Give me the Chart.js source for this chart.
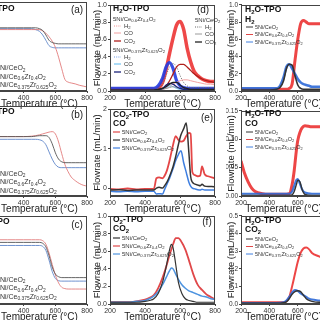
<!DOCTYPE html>
<html><head><meta charset="utf-8">
<script src="https://cdn.jsdelivr.net/npm/chart.js@4.4.0/dist/chart.umd.min.js"></script>
<style>
html,body{margin:0;padding:0;background:#fff;width:320px;height:320px;overflow:hidden;position:relative}
canvas{position:absolute}
</style></head><body>
<script>
// ---------- DATA ----------
const xTicks = [200, 400, 600, 800];
// column 1 (normalised, axis hidden)
const colT = [200,250,300,350,400,450,475,500,520,540,560,580,600,620,640,660,680,700,725,750,775,800];
const aCeO2  = [.71,.71,.71,.71,.71,.71,.71,.70,.68,.63,.57,.545,.535,.53,.53,.53,.53,.53,.53,.53,.53,.53];
const aZr64  = [.69,.69,.69,.69,.69,.69,.69,.69,.675,.65,.61,.56,.49,.38,.25,.13,.10,.09,.08,.065,.055,.045];
const aZr375 = [.70,.70,.70,.70,.70,.70,.69,.67,.63,.57,.51,.49,.485,.485,.485,.485,.485,.485,.485,.485,.485,.485];
const bCeO2  = [.66,.66,.66,.66,.66,.66,.665,.67,.67,.67,.65,.58,.48,.41,.38,.37,.37,.37,.37,.37,.37,.37];
const bZr64  = [.66,.66,.66,.66,.66,.665,.67,.68,.69,.70,.71,.715,.69,.60,.47,.35,.27,.21,.17,.14,.12,.11];
const bZr375 = [.63,.63,.63,.63,.63,.63,.63,.625,.61,.57,.49,.41,.35,.32,.315,.315,.315,.315,.315,.315,.315,.315];
const cCeO2  = [.70,.70,.70,.70,.70,.70,.70,.70,.69,.65,.55,.42,.34,.31,.30,.30,.30,.30,.30,.30,.30,.30];
const cZr64  = [.73,.73,.73,.73,.73,.73,.73,.73,.72,.68,.58,.45,.33,.24,.19,.175,.17,.17,.17,.17,.17,.17];
const cZr375 = [.665,.665,.665,.665,.665,.665,.665,.665,.655,.61,.50,.37,.29,.265,.26,.26,.26,.26,.26,.26,.26,.26];
// (d) H2O-TPO
const dT = [200,250,300,350,400,450,475,500,520,540,560,580,600,620,640,660,680,700,725,750,775,800];
const dH2Zr64  = [.02,.02,.02,.02,.02,.02,.03,.10,.25,.44,.62,.77,.81,.72,.50,.34,.23,.18,.14,.12,.11,.11];
const dCOZr64  = [.01,.01,.01,.01,.01,.01,.01,.02,.03,.05,.08,.10,.12,.13,.13,.12,.11,.10,.09,.08,.08,.07];
const dCO2Zr64 = [.01,.01,.01,.01,.01,.01,.02,.03,.06,.12,.20,.28,.31,.31,.28,.24,.20,.17,.14,.12,.11,.10];
const dH2Zr375 = [.03,.03,.03,.03,.03,.03,.06,.15,.28,.33,.26,.12,.06,.04,.03,.03,.03,.03,.03,.03,.03,.03];
const dCOZr375 = [.01,.01,.01,.01,.01,.01,.01,.02,.04,.06,.05,.03,.02,.02,.01,.01,.01,.01,.01,.01,.01,.01];
const dCO2Zr375= [.01,.01,.01,.01,.01,.01,.02,.03,.07,.09,.08,.05,.03,.02,.02,.02,.02,.02,.02,.02,.02,.02];
const dH2CeO2  = [.02,.02,.02,.02,.02,.02,.03,.08,.18,.28,.32,.28,.18,.10,.06,.04,.04,.04,.04,.04,.04,.04];
const dCOCeO2  = [.01,.01,.01,.01,.01,.01,.01,.02,.03,.04,.05,.04,.03,.02,.02,.01,.01,.01,.01,.01,.01,.01];
const dCO2CeO2 = [.01,.01,.01,.01,.01,.01,.02,.03,.05,.08,.10,.10,.07,.04,.03,.02,.02,.02,.02,.02,.02,.02];
// (e) CO2-TPO, CO
const eT = [200,250,300,350,400,450,465,480,500,510,525,540,560,575,590,605,620,635,650,660,670,685,700,715,725,740,760,780,800];
const eCeO2  = [-.05,-.04,-.06,-.05,-.05,-.05,.00,.02,.00,.05,.15,.30,.55,.80,1.10,1.35,1.50,1.65,.90,.30,.15,.10,.08,.06,.10,.05,.04,.04,.03];
const eZr64  = [-.02,-.03,-.01,-.03,-.02,-.02,.25,.27,.25,.30,.45,.70,1.10,1.32,1.22,1.18,1.20,1.32,1.40,1.38,.40,.33,.30,.32,.55,.35,.30,.27,.25];
const eZr375 = [-.08,-.09,-.08,-.09,-.08,-.08,-.15,-.14,-.15,-.05,.10,.25,.50,.70,.85,.95,.65,.40,.15,.05,.00,-.02,-.04,-.05,-.03,-.05,-.05,-.05,-.05];
// (f) O2-TPO, CO2
const fT = [200,250,300,350,400,425,450,475,500,520,540,550,560,575,590,610,630,650,675,700,725,750,775,800];
const fCeO2  = [.02,.02,.02,.02,.03,.04,.06,.12,.25,.42,.62,.68,.64,.45,.25,.12,.06,.04,.03,.02,.02,.02,.02,.02];
const fZr64  = [.02,.02,.02,.03,.05,.07,.10,.18,.30,.42,.56,.62,.68,.75,.75,.70,.62,.50,.34,.22,.16,.11,.08,.05];
const fZr375 = [.02,.02,.02,.03,.04,.06,.09,.14,.22,.30,.38,.41,.40,.34,.28,.22,.18,.15,.13,.11,.09,.08,.06,.05];
// column 3, H2O-TPO: H2
const gT = [200,250,300,350,400,450,475,500,520,540,560,580,600,620,640,660,680,700,725,750,800];
const gCeO2  = [.01,.01,.01,.01,.01,.02,.04,.12,.26,.31,.30,.18,.07,.03,.02,.02,.02,.02,.02,.02,.02];
const gZr64  = [.02,.02,.02,.02,.02,.02,.02,.02,.02,.03,.08,.35,.60,.78,.82,.80,.78,.78,.78,.78,.78];
const gZr375 = [.03,.03,.03,.03,.03,.03,.06,.16,.28,.31,.26,.20,.14,.10,.08,.07,.06,.05,.05,.05,.05];
// column 3, H2O-TPO: CO
const hT = [200,225,250,275,300,350,400,450,500,540,560,575,590,600,615,630,650,700,750,800];
const hCeO2  = [.001,.001,.001,.001,.001,.001,.001,.001,.001,.001,.002,.008,.020,.028,.025,.012,.003,.001,.001,.001];
const hZr64  = [.062,.040,.025,.014,.008,.004,.003,.003,.003,.004,.020,.045,.080,.098,.112,.120,.124,.122,.122,.122];
const hZr375 = [.004,.004,.004,.004,.004,.004,.004,.004,.004,.004,.008,.018,.028,.030,.022,.012,.006,.004,.004,.004];
// column 3, H2O-TPO: CO2
const iT = [200,300,400,450,500,520,540,560,580,600,620,640,660,680,700,750,800];
const iCeO2  = [.005,.005,.005,.005,.008,.012,.030,.055,.070,.075,.070,.050,.030,.020,.015,.010,.010];
const iZr64  = [.010,.010,.010,.010,.010,.015,.040,.100,.170,.240,.290,.315,.320,.310,.290,.270,.250];
const iZr375 = [.005,.005,.005,.005,.010,.020,.040,.065,.080,.075,.060,.050,.040,.030,.025,.020,.015];

const lblCeO2 = '5Ni/CeO_{2}';
const lblZr64 = '5Ni/Ce_{0.6}Zr_{0.4}O_{2}';
const lblZr375 = '5Ni/Ce_{0.375}Zr_{0.625}O_{2}';

// ---------- DRAWING HELPERS ----------
const FONT = '"Liberation Sans", Arial, sans-serif';
function richText(ctx, str, x, y, size, bold, color, align) {
  const segs = []; let i = 0;
  while (i < str.length) {
    if (str[i] === '_' && str[i+1] === '{') { const j = str.indexOf('}', i); segs.push({t: str.slice(i+2, j), sub: true}); i = j + 1; }
    else { let j = i; while (j < str.length && !(str[j] === '_' && str[j+1] === '{')) j++; segs.push({t: str.slice(i, j), sub: false}); i = j; }
  }
  const w = bold ? 'bold ' : '';
  let total = 0;
  segs.forEach(s => { ctx.font = w + (s.sub ? size*0.7 : size) + 'px ' + FONT; s.w = ctx.measureText(s.t).width; total += s.w; });
  let cx = align === 'right' ? x - total : align === 'center' ? x - total/2 : x;
  ctx.fillStyle = color; ctx.textBaseline = 'middle'; ctx.textAlign = 'left';
  segs.forEach(s => { ctx.font = w + (s.sub ? size*0.7 : size) + 'px ' + FONT; ctx.fillText(s.t, cx, s.sub ? y + size*0.3 : y); cx += s.w; });
}

function panel(c) {
  const yW = c.showY ? c.yW : 0;
  const left = c.l - yW, top = c.t - c.padTop;
  const W = Math.ceil(yW + (c.r - c.l) + c.padRight), H = Math.ceil(c.padTop + (c.b - c.t) + c.xH);
  const cv = document.createElement('canvas');
  cv.width = W; cv.height = H;
  cv.style.left = left + 'px'; cv.style.top = top + 'px';
  cv.style.width = W + 'px'; cv.style.height = H + 'px';
  document.body.appendChild(cv);
  const ds = c.series.map(s => ({
    data: s.x.map((t, k) => ({x: t, y: s.y[k]})),
    borderColor: s.color, borderWidth: s.width, borderDash: s.dash || [],
    pointRadius: 0, cubicInterpolationMode: 'monotone', fill: false
  }));
  const deco = {
    id: 'deco',
    afterDatasetsDraw(ch) {
      const ctx = ch.ctx, a = ch.chartArea;
      ctx.save();
      ctx.strokeStyle = '#444'; ctx.lineWidth = 1;
      ctx.strokeRect(Math.round(a.left) + 0.5, Math.round(a.top) + 0.5, Math.round(a.right - a.left) - 1, Math.round(a.bottom - a.top) - 1);
      (c.lines || []).forEach(L => {
        ctx.beginPath(); ctx.strokeStyle = L.color; ctx.lineWidth = L.width; ctx.setLineDash(L.dash || []);
        ctx.moveTo(L.x1 - left, L.y - top); ctx.lineTo(L.x2 - left, L.y - top); ctx.stroke();
      });
      ctx.setLineDash([]);
      (c.texts || []).forEach(T => richText(ctx, T.t, T.x - left, T.y - top, T.size, T.bold, T.color || '#222', T.align || 'left'));
      ctx.restore();
    }
  };
  new Chart(cv, {
    type: 'line',
    data: {datasets: ds},
    options: {
      responsive: false, animation: false, devicePixelRatio: 1,
      layout: {padding: {left: 0, top: c.padTop, right: c.padRight, bottom: 0}},
      plugins: {legend: {display: false}, tooltip: {enabled: false}},
      scales: {
        x: {
          type: 'linear', min: 200, max: 800,
          afterFit: s => { s.height = c.xH; },
          afterBuildTicks: s => { s.ticks = xTicks.map(v => ({value: v})); },
          ticks: {font: {size: 7, family: FONT}, color: '#333', padding: 1, maxRotation: 0, autoSkip: false, callback: v => String(v)},
          grid: {display: true, drawOnChartArea: false, tickLength: 2, color: '#444'},
          border: {color: '#444'},
          title: {display: true, text: 'Temperature (°C)', font: {size: 10, family: FONT}, color: '#222', padding: {top: 0, bottom: 0}}
        },
        y: {
          display: c.showY, min: c.yMin, max: c.yMax,
          afterFit: s => { s.width = yW; },
          afterBuildTicks: s => { s.ticks = (c.yTicks || []).map(v => ({value: v})); },
          ticks: {font: {size: c.yFont || 7, family: FONT}, color: '#333', padding: 1, autoSkip: false, callback: v => v.toFixed(c.yDec)},
          grid: {display: true, drawOnChartArea: false, tickLength: 2, color: '#444'},
          border: {color: '#444'},
          title: {display: c.showY, text: 'Flowrate (mL/min)', font: {size: 9.5, family: FONT}, color: '#222', padding: {top: 0, bottom: 0}}
        }
      }
    },
    plugins: [deco]
  });
}

const BLK = '#555', RED1 = '#e27c7c', BLU1 = '#5f86c9';
function S(x, y, color, width, dash) { return {x, y, color, width, dash}; }
function T(t, x, y, size, bold, color, align) { return {t, x, y, size, bold, color, align}; }
function Ln(x1, x2, y, color, width, dash) { return {x1, x2, y, color, width, dash}; }

// ---------- COLUMN 1 ----------
const c1 = {l: -15, r: 91.5, showY: false, yMin: 0, yMax: 1, padRight: 2, xH: 19};
function col1Legend(y0) {
  return [T(lblCeO2, -4, y0, 7, false, '#333'), T(lblZr64, -4, y0 + 8.5, 7, false, '#333'), T(lblZr375, -4, y0 + 17, 7, false, '#333')];
}
panel(Object.assign({}, c1, {t: 2, b: 90.5, padTop: 2,
  series: [S(colT, aCeO2, BLK, 0.9), S(colT, aZr64, RED1, 0.9), S(colT, aZr375, BLU1, 0.9)],
  texts: [T('H_{2}O-TPO', 14.5, 8.5, 8.5, true, '#111', 'right'), T('(a)', 77, 10.5, 10, false, '#222', 'center')].concat(col1Legend(68.5))}));
panel(Object.assign({}, c1, {t: 106, b: 196, padTop: 3,
  series: [S(colT, bCeO2, BLK, 0.9), S(colT, bZr64, RED1, 0.9), S(colT, bZr375, BLU1, 0.9)],
  texts: [T('CO_{2}-TPO', 14.5, 112, 8.5, true, '#111', 'right'), T('(b)', 77, 115.5, 10, false, '#222', 'center')].concat(col1Legend(174))}));
panel(Object.assign({}, c1, {t: 216, b: 303.5, padTop: 3,
  series: [S(colT, cCeO2, BLK, 0.9), S(colT, cZr64, RED1, 0.9), S(colT, cZr375, BLU1, 0.9)],
  texts: [T('O_{2}-TPO', 9.5, 222, 8.5, true, '#111', 'right'), T('(c)', 77, 225.5, 10, false, '#222', 'center')].concat(col1Legend(280))}));

// ---------- COLUMN 2 ----------
const c2 = {l: 110, r: 219.5, showY: true, yW: 18, padRight: 2, xH: 19, yFont: 7};
panel(Object.assign({}, c2, {t: 2, b: 90.5, padTop: 2, yMin: 0, yMax: 1, yTicks: [0, .2, .4, .6, .8, 1], yDec: 1,
  series: [
    S(dT, dCO2CeO2, '#222', 1.3), S(dT, dCO2Zr375, '#1b237a', 1.3), S(dT, dCO2Zr64, '#b0201c', 1.3),
    S(dT, dCOCeO2, '#9a9a9a', 1), S(dT, dCOZr375, '#59b8f0', 1), S(dT, dCOZr64, '#f2a0a0', 1),
    S(dT, dH2CeO2, '#666', 1, [1, 1.5]), S(dT, dH2Zr375, 'rgba(35,60,225,0.9)', 3.2), S(dT, dH2Zr64, 'rgba(235,40,40,0.85)', 3.5)
  ],
  lines: [
    Ln(114, 121, 26, '#f08a8a', 1, [1, 1.2]), Ln(114, 121, 33, '#f2a0a0', 1), Ln(114, 121, 41, '#b0201c', 1.3),
    Ln(114, 121, 57, '#6a9ae8', 1, [1, 1.2]), Ln(114, 121, 64, '#59b8f0', 1), Ln(114, 121, 72, '#1b237a', 1.3),
    Ln(195, 202, 27, '#666', 1, [1, 1.2]), Ln(195, 202, 34, '#9a9a9a', 1), Ln(195, 202, 42, '#222', 1.3)
  ],
  texts: [
    T('H_{2}O-TPO', 113, 9, 8.5, true, '#111'), T('(d)', 203, 10.5, 10, false, '#222', 'center'),
    T(lblZr64, 113, 19, 6, false, '#333'),
    T('H_{2}', 124, 26, 6, false, '#333'), T('CO', 124, 33, 6, false, '#333'), T('CO_{2}', 124, 41, 6, false, '#333'),
    T(lblZr375, 113, 50, 6, false, '#333'),
    T('H_{2}', 124, 57, 6, false, '#333'), T('CO', 124, 64, 6, false, '#333'), T('CO_{2}', 124, 72, 6, false, '#333'),
    T(lblCeO2, 195, 20, 6, false, '#333'),
    T('H_{2}', 205, 27, 6, false, '#333'), T('CO', 205, 34, 6, false, '#333'), T('CO_{2}', 205, 42, 6, false, '#333')
  ]}));
panel(Object.assign({}, c2, {t: 108, b: 196, padTop: 4, yMin: -0.2, yMax: 2, yTicks: [0, 1, 2], yDec: 0,
  series: [S(eT, eCeO2, '#333', 1.5), S(eT, eZr375, '#3f7fe0', 1.5), S(eT, eZr64, 'rgba(225,50,50,0.9)', 1.8)],
  lines: [Ln(113, 120, 132, '#e04848', 1.2), Ln(113, 120, 140, '#333', 1.2), Ln(113, 120, 148, '#3f7fe0', 1.2)],
  texts: [
    T('CO_{2}-TPO', 113, 115, 8.5, true, '#111'), T('CO', 113, 124, 8.5, true, '#111'), T('(e)', 207, 118, 10, false, '#222', 'center'),
    T(lblCeO2, 122, 132, 6, false, '#333'), T(lblZr64, 122, 140, 6, false, '#333'), T(lblZr375, 122, 148, 6, false, '#333')
  ]}));
panel(Object.assign({}, c2, {t: 215, b: 304, padTop: 4, yMin: 0, yMax: 1, yTicks: [0, .2, .4, .6, .8, 1], yDec: 1,
  series: [S(fT, fCeO2, '#333', 1.2), S(fT, fZr375, '#4e94e0', 1.5), S(fT, fZr64, '#e0484a', 1.8)],
  lines: [Ln(113, 120, 238, '#333', 1.2), Ln(113, 120, 246, '#e0484a', 1.2), Ln(113, 120, 254, '#4e94e0', 1.2)],
  texts: [
    T('O_{2}-TPO', 113, 220, 8.5, true, '#111'), T('CO_{2}', 113, 229, 8.5, true, '#111'), T('(f)', 207, 222, 10, false, '#222', 'center'),
    T(lblCeO2, 122, 238, 6, false, '#333'), T(lblZr64, 122, 246, 6, false, '#333'), T(lblZr375, 122, 254, 6, false, '#333')
  ]}));

// ---------- COLUMN 3 ----------
const c3 = {l: 241, r: 331, showY: true, yW: 15, padRight: 2, xH: 19, yFont: 6.5};
function col3Legend(y0) {
  return {
    lines: [Ln(246, 253, y0, '#333', 1), Ln(246, 253, y0 + 7.5, '#e04848', 1), Ln(246, 253, y0 + 15, '#3f7fe0', 1)],
    texts: [T(lblCeO2, 255, y0, 5.5, false, '#333'), T(lblZr64, 255, y0 + 7.5, 5.5, false, '#333'), T(lblZr375, 255, y0 + 15, 5.5, false, '#333')]
  };
}
const L1 = col3Legend(27), L2 = col3Legend(132), L3 = col3Legend(239);
panel(Object.assign({}, c3, {t: 2, b: 90.5, padTop: 2, yMin: 0, yMax: 1, yTicks: [0, .2, .4, .6, .8, 1], yDec: 1,
  series: [S(gT, gCeO2, '#333', 1.6), S(gT, gZr375, 'rgba(45,105,215,0.9)', 2.6), S(gT, gZr64, 'rgba(235,50,50,0.9)', 3)],
  lines: L1.lines,
  texts: [T('H_{2}O-TPO', 245, 10, 8.5, true, '#111'), T('H_{2}', 245, 20, 8.5, true, '#111')].concat(L1.texts)}));
panel(Object.assign({}, c3, {t: 110, b: 195.5, padTop: 4, yMin: 0, yMax: 0.15, yTicks: [0, .05, .10, .15], yDec: 2,
  series: [S(hT, hCeO2, '#333', 1.4), S(hT, hZr375, 'rgba(45,105,215,0.9)', 2.2), S(hT, hZr64, 'rgba(235,50,50,0.9)', 3)],
  lines: L2.lines,
  texts: [T('H_{2}O-TPO', 245, 114, 8.5, true, '#111'), T('CO', 245, 124, 8.5, true, '#111')].concat(L2.texts)}));
panel(Object.assign({}, c3, {t: 215, b: 303.5, padTop: 4, yMin: 0, yMax: 0.5, yTicks: [0, .1, .2, .3, .4, .5], yDec: 1,
  series: [S(iT, iCeO2, '#333', 1.4), S(iT, iZr375, 'rgba(45,105,215,0.9)', 2), S(iT, iZr64, 'rgba(235,50,50,0.9)', 2)],
  lines: L3.lines,
  texts: [T('H_{2}O-TPO', 245, 221, 8.5, true, '#111'), T('CO_{2}', 245, 230, 8.5, true, '#111')].concat(L3.texts)}));
</script>
</body></html>
